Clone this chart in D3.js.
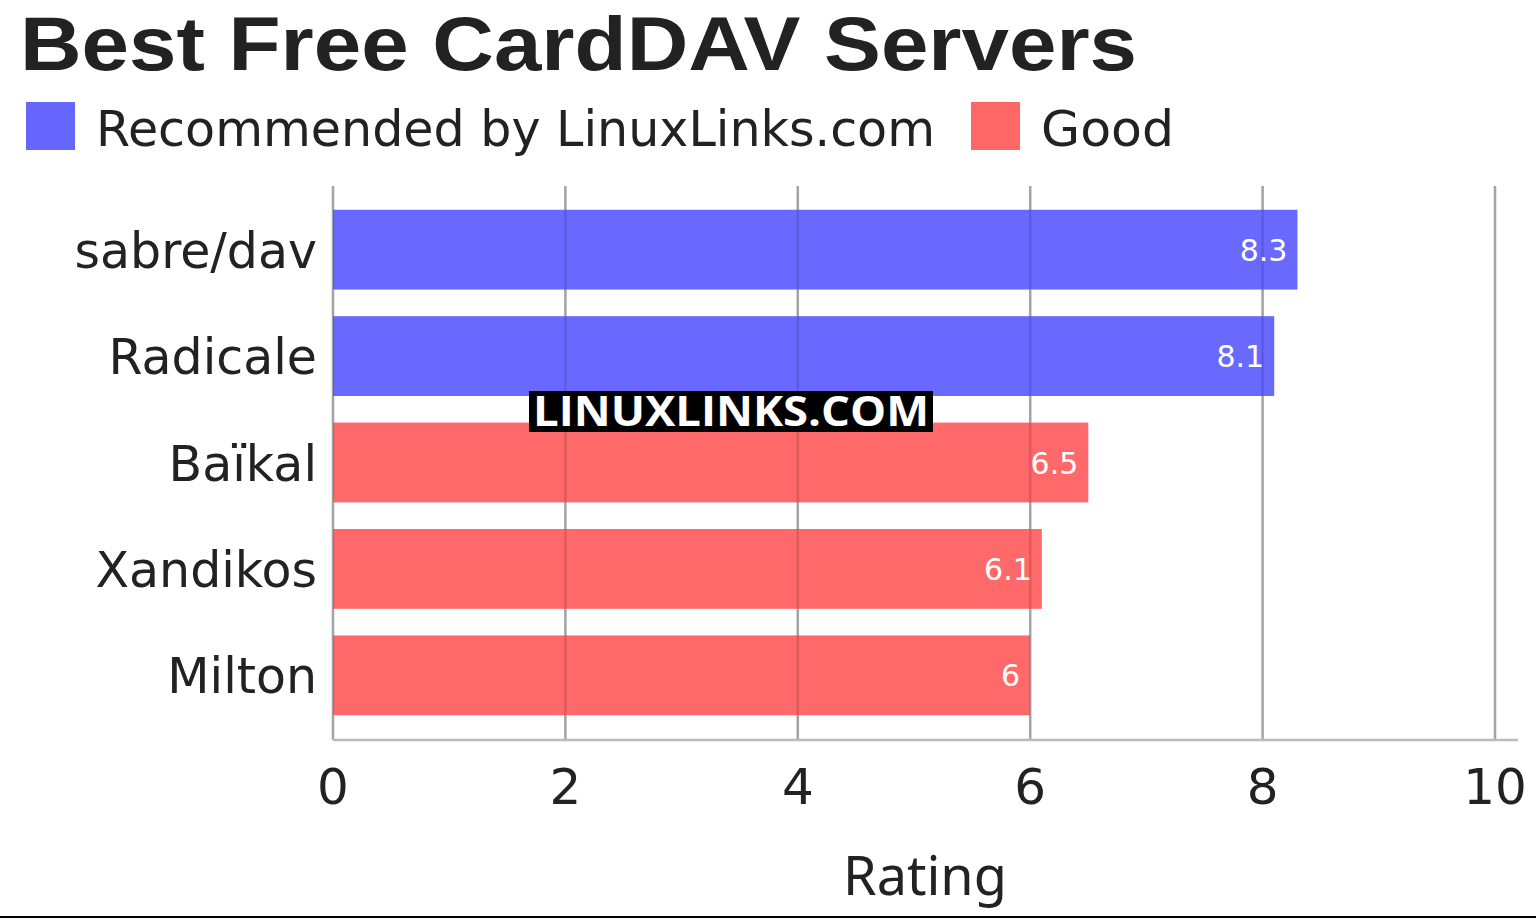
<!DOCTYPE html><html><head><meta charset="utf-8">
<script src="https://cdn.jsdelivr.net/npm/d3@7"></script>
<style>body{margin:0;background:#fff}svg{display:block}</style></head><body>
<svg id="c" width="1536" height="920"></svg>
<script>
const categories=["sabre/dav","Radicale","Baïkal","Xandikos","Milton"];
const values=[8.3,8.1,6.5,6.1,6];
const groups=["rec","rec","good","good","good"];
const legendLabels=["Recommended by LinuxLinks.com","Good"];
const ticks=[0,2,4,6,8,10];
const colors={rec:"#6666ff",good:"#ff6666"};
const svg=d3.select("#c");
const x=d3.scaleLinear().domain([0,10]).range([333,1495]);
const y=d3.scaleBand().domain(categories).range([197,728]).paddingInner(0.25).paddingOuter(0.12);
svg.append("text").attr("x",20).attr("y",70).attr("font-family","Liberation Sans, Arial").attr("font-weight","bold").attr("font-size",76).attr("fill","#222").attr("textLength",1117).attr("lengthAdjust","spacingAndGlyphs").text("Best Free CardDAV Servers");
const lg=[{l:legendLabels[0],c:colors.rec,x:26,w:839},{l:legendLabels[1],c:colors.good,x:971,w:133}];
lg.forEach(d=>{svg.append("rect").attr("x",d.x).attr("y",102).attr("width",49).attr("height",48).attr("fill",d.c);
svg.append("text").attr("x",d.x+70).attr("y",146).attr("font-family","DejaVu Sans").attr("font-size",50).attr("fill","#222").attr("textLength",d.w).attr("lengthAdjust","spacingAndGlyphs").text(d.l);});
svg.append("g").selectAll("line").data(ticks).join("line").attr("x1",d=>x(d)).attr("x2",d=>x(d)).attr("y1",186).attr("y2",740).attr("stroke","#bbb").attr("stroke-width",2.5);
svg.append("g").selectAll("rect").data(categories).join("rect").attr("x",x(0)).attr("y",d=>y(d)).attr("height",y.bandwidth()).attr("width",(d,i)=>x(values[i])-x(0)).attr("fill",(d,i)=>colors[groups[i]]).attr("opacity",0.98);
svg.append("g").selectAll("line").data(ticks).join("line").attr("x1",d=>x(d)).attr("x2",d=>x(d)).attr("y1",186).attr("y2",740).attr("stroke","#000").attr("stroke-opacity",0.12).attr("stroke-width",2.5);
svg.append("line").attr("x1",333).attr("x2",1518).attr("y1",740).attr("y2",740).attr("stroke","#bbb").attr("stroke-width",2.5);
svg.append("g").selectAll("text").data(categories).join("text").attr("x",317).attr("y",d=>y(d)+y.bandwidth()/2+18).attr("text-anchor","end").attr("font-family","DejaVu Sans").attr("font-size",49).attr("fill","#222").text(d=>d);
svg.append("g").selectAll("text").data(categories).join("text").attr("x",(d,i)=>x(values[i])-10).attr("y",d=>y(d)+y.bandwidth()/2+11).attr("text-anchor","end").attr("font-family","DejaVu Sans").attr("font-size",30).attr("fill","#fff").text((d,i)=>values[i]);
svg.append("g").selectAll("text").data(ticks).join("text").attr("x",d=>x(d)).attr("y",804).attr("text-anchor","middle").attr("font-family","DejaVu Sans").attr("font-size",50).attr("fill","#222").text(d=>d);
svg.append("text").attr("x",925).attr("y",895).attr("text-anchor","middle").attr("font-family","Noto Sans").attr("font-size",54).attr("fill","#222").text("Rating");
svg.append("rect").attr("x",529).attr("y",391).attr("width",404).attr("height",41).attr("fill","#000");
svg.append("text").attr("x",731).attr("y",426).attr("text-anchor","middle").attr("font-family","Open Sans").attr("font-weight","bold").attr("font-size",42).attr("fill","#fff").attr("textLength",396).attr("lengthAdjust","spacingAndGlyphs").text("LINUXLINKS.COM");
svg.append("line").attr("x1",0).attr("x2",1536).attr("y1",917).attr("y2",917).attr("stroke","#000").attr("stroke-width",2);
</script></body></html>
